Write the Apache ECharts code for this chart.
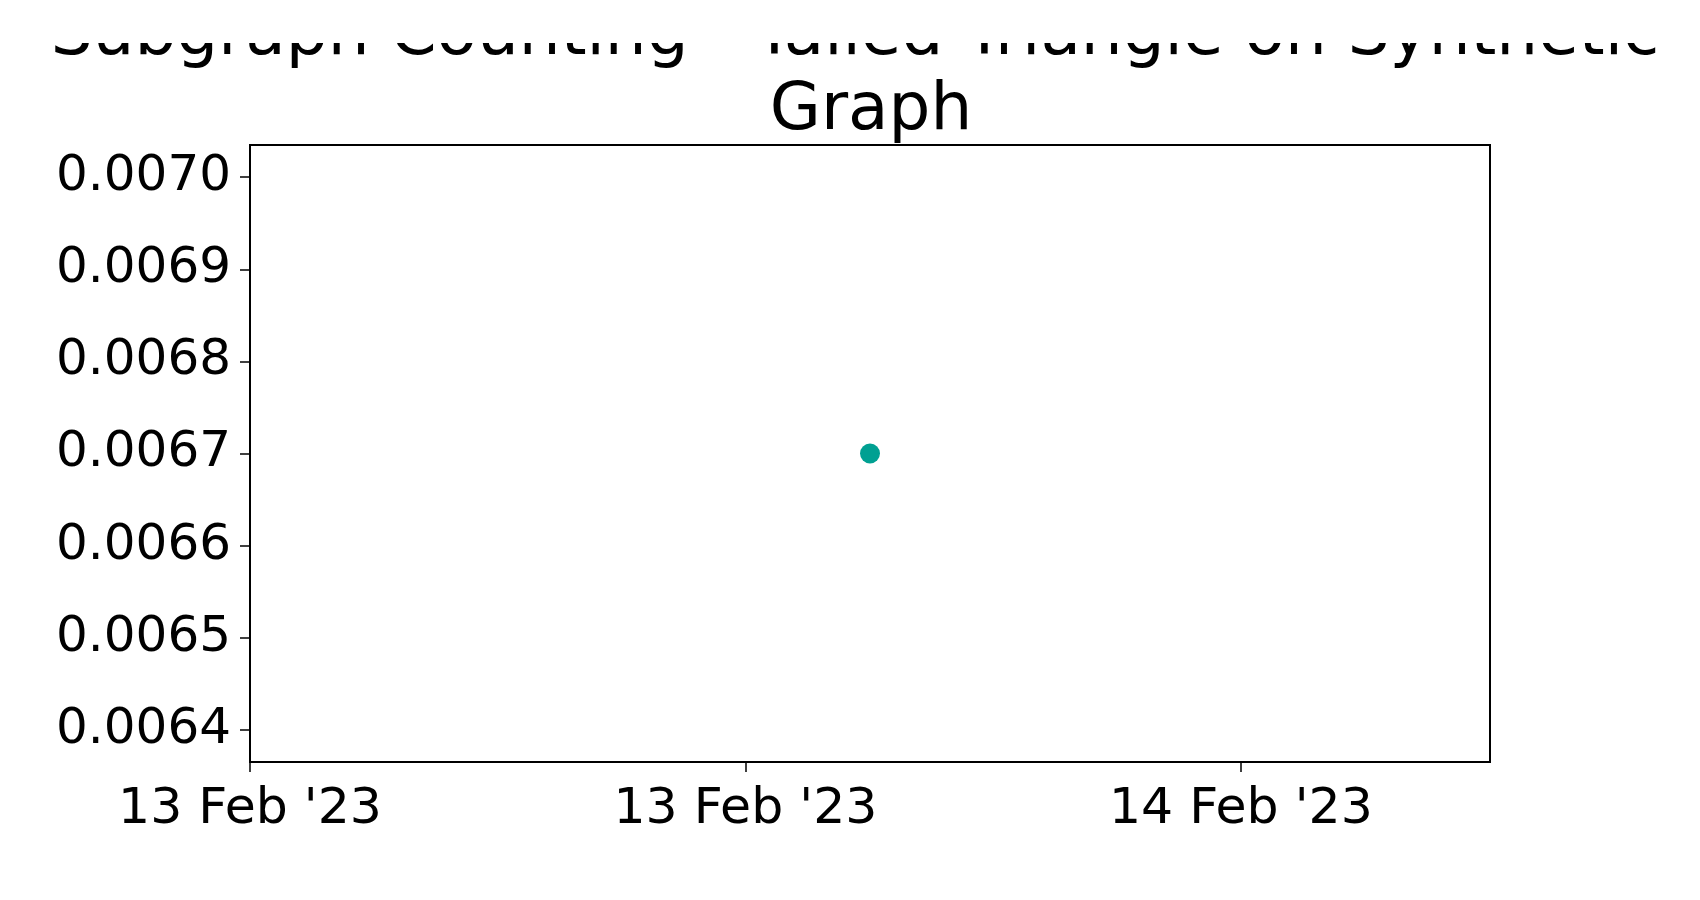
<!DOCTYPE html>
<html>
<head>
<meta charset="utf-8">
<script src="https://cdn.jsdelivr.net/npm/echarts@6/dist/echarts.min.js"></script>
<style>
html,body{margin:0;padding:0;background:#fff;}
#chart{width:1700px;height:900px;}
</style>
</head>
<body>
<div id="chart"></div>
<script>
// ---- data ----
const titleLines = ["Subgraph Counting - Tailed Triangle on Synthetic", "Graph"];
const pointDates = ["2023-02-13T15:01:00Z"];
const pointValues = [0.0067];
const xRange = ["2023-02-13T00:00:00Z", "2023-02-14T06:02:00Z"];
const xTickDates = ["2023-02-13T00:00:00Z", "2023-02-13T12:00:00Z", "2023-02-14T00:00:00Z"];
const yRange = [0.006365, 0.007035];
const yTicks = [0.0064, 0.0065, 0.0066, 0.0067, 0.0068, 0.0069, 0.0070];

const MONTHS = ["Jan","Feb","Mar","Apr","May","Jun","Jul","Aug","Sep","Oct","Nov","Dec"];
function fmtDate(ms){
  const d = new Date(ms);
  return d.getUTCDate() + " " + MONTHS[d.getUTCMonth()] + " '" + String(d.getUTCFullYear()).slice(2);
}
const toMs = s => Date.parse(s);

const FONT = "DejaVu Sans";
const titleStyle = {fontFamily:FONT, fontSize:66, fontWeight:'normal', color:'#000', lineHeight:73};
const chart = echarts.init(document.getElementById('chart'), null, {renderer:'canvas'});
chart.setOption({
  animation:false,
  backgroundColor:'#ffffff',
  title:[
    {text:titleLines[0], left:855, top:0, textAlign:'center', padding:0, textStyle:titleStyle},
    {text:titleLines[1], left:871, top:75, textAlign:'center', padding:0, textStyle:titleStyle}
  ],
  // the reference's title top line is cut off above this band
  graphic:[{type:'rect', shape:{x:0, y:0, width:1700, height:43}, style:{fill:'#ffffff'}, z:1000, silent:true}],
  grid:{left:250, right:210, top:145, bottom:138, show:true, borderColor:'#000', borderWidth:2, backgroundColor:'#fff'},
  xAxis:{
    type:'value',
    min:toMs(xRange[0]), max:toMs(xRange[1]),
    splitLine:{show:false},
    axisLine:{show:true, lineStyle:{color:'#000', width:2}},
    axisTick:{show:true, inside:false, length:10, lineStyle:{color:'#000', width:1.5}, customValues:xTickDates.map(toMs)},
    axisLabel:{show:true, margin:22, fontFamily:FONT, fontSize:50.5, color:'#000',
      customValues:xTickDates.map(toMs), formatter:v=>fmtDate(v)}
  },
  yAxis:{
    type:'value',
    min:yRange[0], max:yRange[1],
    splitLine:{show:false},
    axisLine:{show:true, lineStyle:{color:'#000', width:2}},
    axisTick:{show:true, inside:false, length:10, lineStyle:{color:'#000', width:1.5}, customValues:yTicks},
    axisLabel:{show:true, margin:19, fontFamily:FONT, fontSize:50, color:'#000', padding:[14,0,0,0],
      customValues:yTicks, formatter:v=>v.toFixed(4)}
  },
  series:[{
    type:'scatter',
    data:pointDates.map((d,i)=>[toMs(d), pointValues[i]]),
    symbol:'circle', symbolSize:20,
    itemStyle:{color:'#00a092', opacity:1},
    emphasis:{disabled:true}
  }]
});
</script>
</body>
</html>
